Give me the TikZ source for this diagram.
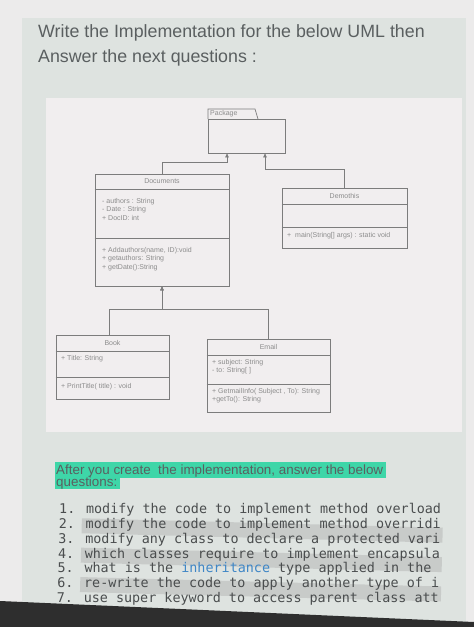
\documentclass[tikz,border=0pt]{standalone}
\usepackage{fontspec}
\setmainfont{Liberation Sans}
\newfontfamily\monofont{DejaVu Sans Mono}
\usetikzlibrary{arrows.meta,positioning,calc}
\definecolor{outer}{HTML}{ECEBEB}
\definecolor{panel}{HTML}{DEE3E0}
\definecolor{sheet}{HTML}{F1EEEF}
\definecolor{umlline}{HTML}{7C7C7C}
\definecolor{umltext}{HTML}{8C8C8C}
\definecolor{headtext}{HTML}{5A5F60}
\definecolor{hilite}{HTML}{3ED6A8}
\definecolor{selgray}{HTML}{C8CBC9}
\definecolor{codetext}{HTML}{4A4D4E}
\definecolor{kwblue}{HTML}{3F86C6}
\tikzset{
  cls/.style={draw=umlline, line width=0.7pt, fill=sheet, inner sep=0pt},
  ttl/.style={font=\fontsize{7}{8.6}\selectfont, text=umltext, inner sep=0pt},
  mem/.style={ttl, align=left, anchor=north west},
  sep/.style={draw=umlline, line width=0.7pt},
  inh/.style={draw=umlline, line width=0.7pt, -{Triangle[length=4pt,width=3.5pt]}},
  head/.style={font=\fontsize{17.8}{25}\selectfont, text=headtext, anchor=base west, inner sep=0pt},
  after/.style={font=\fontsize{13.4}{14}\selectfont, text=headtext, anchor=base west, inner sep=0pt},
  qline/.style={font=\monofont\fontsize{13.4}{14.7}\selectfont, text=codetext, anchor=base west, inner sep=0pt}
}
\begin{document}
\begin{tikzpicture}[x=1pt, y=-1pt]
  \useasboundingbox (0,0) rectangle (474,627);
  % photo background
  \fill[outer] (0,0) rectangle (474,627);
  \fill[panel] (22,18) rectangle (466,627);
  \fill[sheet] (46,98) rectangle (462,432);
  \fill[black!82] (0,601) -- (474,622) -- (474,627) -- (0,627) -- cycle;

  % heading
  \node[head] (h1) at (38,37) {Write the Implementation for the below UML then};
  \node[head] (h2) at (38,62) {Answer the next questions :};

  % package
  \draw[cls] (208,119) -- (208,109) -- (255,109) -- (258,119);
  \node[ttl, anchor=west] (pkgname) at (210,114) {Package};
  \node[cls, minimum width=77pt, minimum height=34pt] (pkg) at (246.5,136) {};

  % Documents
  \node[cls, minimum width=134pt, minimum height=112pt] (docs) at (162,230) {};
  \node[ttl] (docsname) at (162,181) {Documents};
  \draw[sep] (docs.west |- 0,189) -- (docs.east |- 0,189);
  \draw[sep] (docs.west |- 0,238) -- (docs.east |- 0,238);
  \node[mem] (docsattr) at (102,198) {- authors : String\\- Date : String\\+ DocID: int};
  \node[mem] (docsops) at (102,247) {+ Addauthors(name, ID):void\\+ getauthors: String\\+ getDate():String};

  % Demothis
  \node[cls, minimum width=125pt, minimum height=60pt] (demo) at (344.5,218) {};
  \node[ttl] (demoname) at (344.5,196) {Demothis};
  \draw[sep] (demo.west |- 0,204) -- (demo.east |- 0,204);
  \draw[sep] (demo.west |- 0,227) -- (demo.east |- 0,227);
  \node[mem] (demoops) at (287,232) {+\ \ main(String[] args) : static void};

  % Book
  \node[cls, minimum width=113pt, minimum height=64pt] (book) at (112.5,367) {};
  \node[ttl] (bookname) at (112.5,343) {Book};
  \draw[sep] (book.west |- 0,351) -- (book.east |- 0,351);
  \draw[sep] (book.west |- 0,377) -- (book.east |- 0,377);
  \node[mem] (bookattr) at (61,355) {+ Title: String};
  \node[mem] (bookops) at (61,383) {+ PrintTitle( title) : void};

  % Email
  \node[cls, minimum width=123pt, minimum height=73pt] (email) at (268.5,375.5) {};
  \node[ttl] (emailname) at (268.5,347) {Email};
  \draw[sep] (email.west |- 0,355) -- (email.east |- 0,355);
  \draw[sep] (email.west |- 0,384) -- (email.east |- 0,384);
  \node[mem] (emailattr) at (212,359) {+ subject: String\\- to: String[ ]};
  \node[mem] (emailops) at (212,388) {+ GetmailInfo( Subject , To): String\\+getTo(): String};

  % generalisations
  \draw[inh] (docs.north) -- ++(0,-11) -| ([xshift=-19.5pt]pkg.south);
  \draw[inh] (demo.north) -- ++(0,-18) -| ([xshift=18.5pt]pkg.south);
  \draw[inh] ([xshift=-3.5pt]book.north) -- ++(0,-25) -| (docs.south);
  \draw[inh] (email.north) -- ++(0,-29) -| (docs.south);

  % questions intro
  \fill[hilite] (55,462) rectangle (386,478);
  \fill[hilite] (55,478) rectangle (120,489);
  \node[after] (after1) at (56,474) {After you create\ \ the implementation, answer the below};
  \node[after] (after2) at (56,486.5) {questions:};

  % question list
  \begin{scope}[rotate around={-1.5:(60,514)}]
    \foreach \k in {2,4,6}
      \fill[selgray] (82,{514+14.7*(\k-1)-11}) rectangle (443,{514+14.7*(\k-1)+4});
    \node[qline] (q1) at (59,514) {1. modify the code to implement method overload};
    \node[qline] (q2) at (59,528.7) {2. modify the code to implement method overridi};
    \node[qline] (q3) at (59,543.4) {3. modify any class to declare a protected vari};
    \node[qline] (q4) at (59,558.1) {4. which classes require to implement encapsula};
    \node[qline] (q5) at (59,572.8) {5. what is the \textcolor{kwblue}{inheritance} type applied in the};
    \node[qline] (q6) at (59,587.5) {6. re-write the code to apply another type of i};
    \node[qline] (q7) at (59,602.2) {7. use super keyword to access parent class att};
  \end{scope}
\end{tikzpicture}
\end{document}
